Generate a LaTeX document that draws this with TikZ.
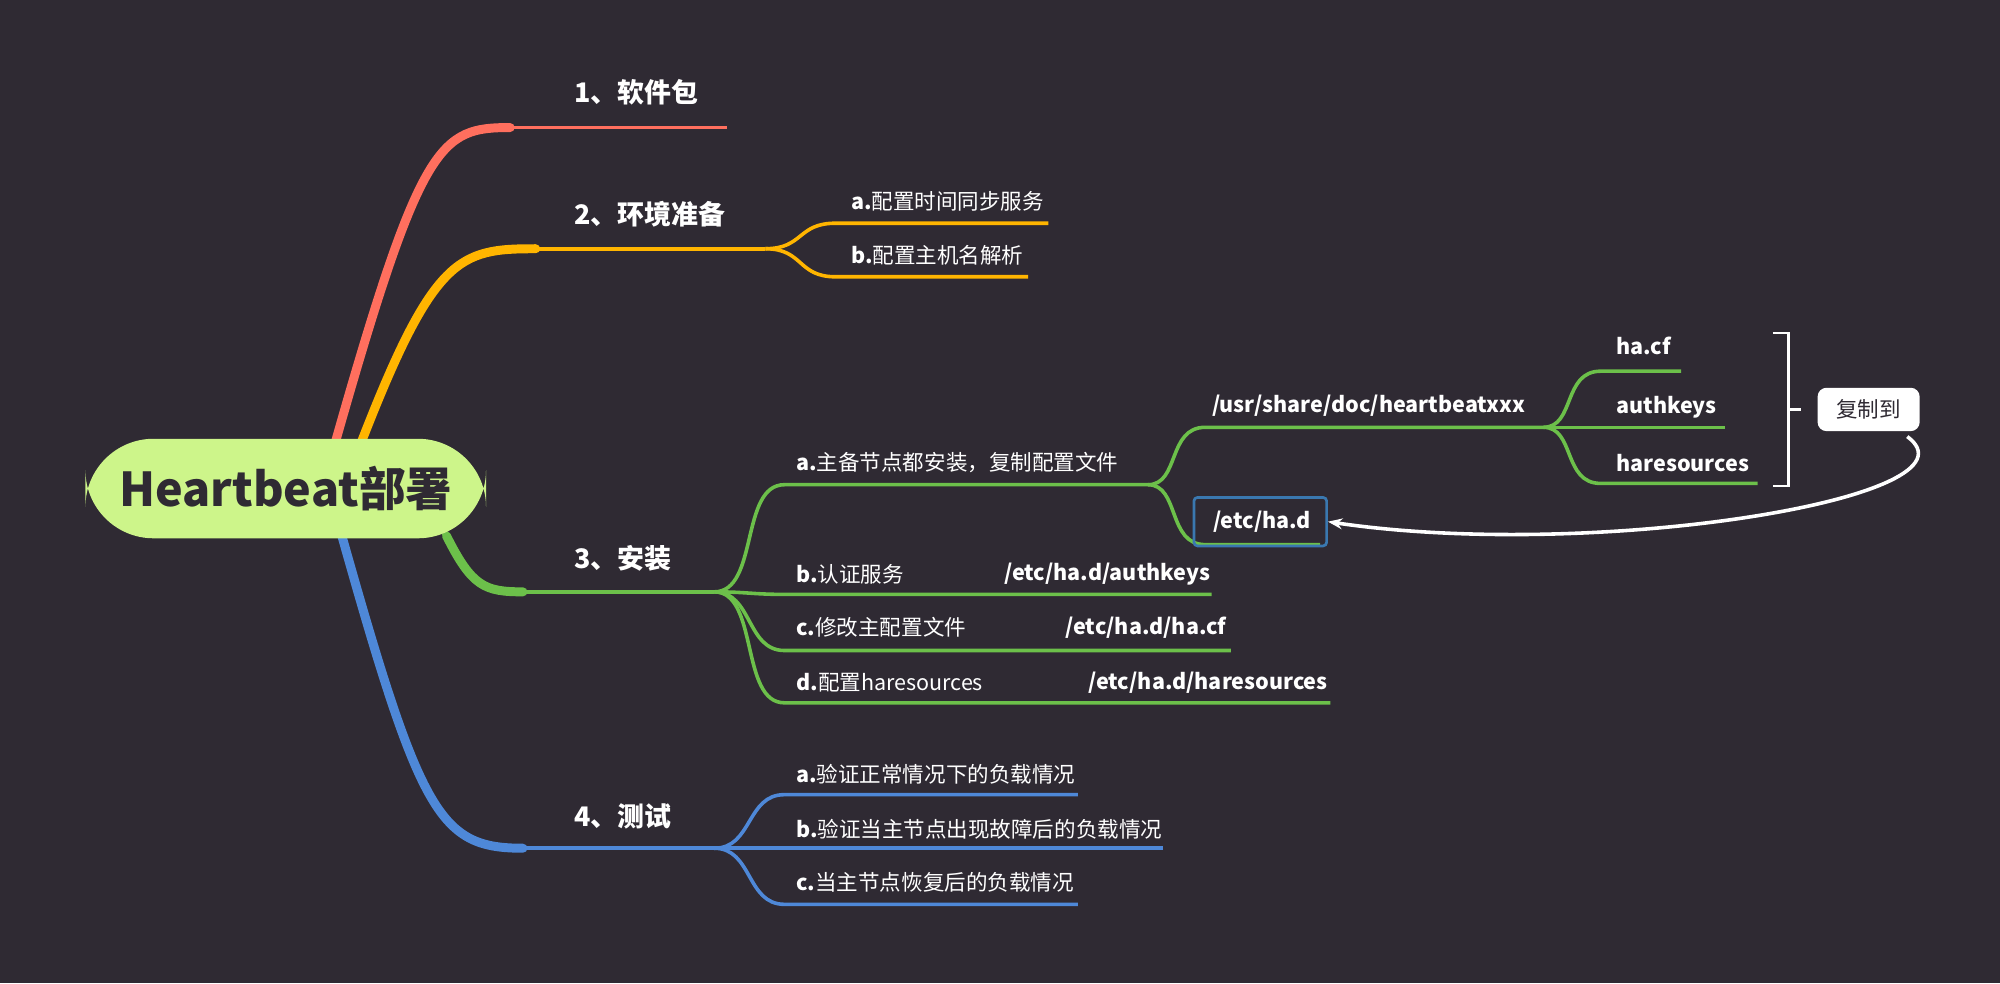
\documentclass[tikz,border=0pt]{standalone}
\usepackage{fontspec}
\setmainfont{Noto Sans CJK SC}
\usetikzlibrary{arrows.meta}
\definecolor{bg}{HTML}{2F2A33}
\definecolor{cred}{HTML}{FF6F5E}
\definecolor{cyel}{HTML}{FFB500}
\definecolor{cgrn}{HTML}{6CC04A}
\definecolor{cblu}{HTML}{4E88D8}
\definecolor{croot}{HTML}{CDF58A}
\definecolor{cbox}{HTML}{3A78B0}
\tikzset{
  main/.style={text=white, font=\fontsize{15}{18}\selectfont\bfseries, anchor=west, inner sep=0pt},
  sub/.style={text=white, font=\fontsize{12}{14}\selectfont, anchor=west, inner sep=0pt},
  path/.style={text=white, font=\fontsize{12}{14}\selectfont\bfseries, anchor=west, inner sep=0pt},
  trunk/.style={line width=5pt, line cap=round},
  twig/.style={line width=2pt}
}
\begin{document}
\begin{tikzpicture}[x=0.025cm, y=-0.025cm]
\fill[bg] (0,0) rectangle (1568,771);
\useasboundingbox (0,0) rectangle (1568,771);
% branch 1
\draw[cred, trunk] (262,350) .. controls (330,110) and (345,100) .. (400,100);
\draw[cred, twig] (400,100) -- (570,100);
\node[main] (b1) at (450,72) {1、软件包};
% branch 2
\draw[cyel, trunk] (282,350) .. controls (340,200) and (360,195) .. (420,195);
\draw[cyel, twig] (420,195) -- (600,195);
\draw[cyel, twig] (600,195) .. controls (630,195) and (625,175) .. (655,175) -- (822,175);
\draw[cyel, twig] (600,195) .. controls (630,195) and (625,217) .. (655,217) -- (806,217);
\node[main] (b2) at (450,168) {2、环境准备};
\node[sub] (b2a) at (667,158) {\textbf{a.}配置时间同步服务};
\node[sub] (b2b) at (667,200) {\textbf{b.}配置主机名解析};
% branch 3
\draw[cgrn, trunk] (350,420) .. controls (370,460) and (380,464) .. (410,464);
\draw[cgrn, twig] (410,464) -- (560,464);
\draw[cgrn, twig] (560,464) .. controls (595,464) and (580,380) .. (615,380) -- (900,380);
\draw[cgrn, twig] (560,464) .. controls (585,464) and (590,466) .. (615,466) -- (950,466);
\draw[cgrn, twig] (560,464) .. controls (590,464) and (585,510) .. (615,510) -- (965,510);
\draw[cgrn, twig] (560,464) .. controls (595,464) and (580,551) .. (615,551) -- (1043,551);
\draw[cgrn, twig] (900,380) .. controls (925,380) and (915,335) .. (945,335) -- (1210,335);
\draw[cgrn, twig] (900,380) .. controls (925,380) and (915,427) .. (945,427) -- (1035,427);
\draw[cgrn, twig] (1210,335) .. controls (1235,335) and (1225,291) .. (1255,291) -- (1318,291);
\draw[cgrn, twig] (1210,335) -- (1352,335);
\draw[cgrn, twig] (1210,335) .. controls (1235,335) and (1225,379) .. (1255,379) -- (1378,379);
\node[main] (b3) at (450,438) {3、安装};
\node[sub] (b3a) at (624,363) {\textbf{a.}主备节点都安装，复制配置文件};
\node[path] (usr) at (950,318) {/usr/share/doc/heartbeatxxx};
\node[path, draw=cbox, line width=1.5pt, rounded corners=2pt, minimum width=2.6cm, minimum height=0.95cm, inner sep=4pt] (etc) at (935,409) {\,/etc/ha.d};
\node[path] (hacf) at (1267,271) {ha.cf};
\node[path] (auth) at (1267,319) {authkeys};
\node[path] (hares) at (1267,363) {haresources};
\node[sub] (b3b) at (624,450) {\textbf{b.}认证服务};
\node[path] (b3bp) at (787,450) {/etc/ha.d/authkeys};
\node[sub] (b3c) at (624,492) {\textbf{c.}修改主配置文件};
\node[path] (b3cp) at (835,492) {/etc/ha.d/ha.cf};
\node[sub] (b3d) at (624,535) {\textbf{d.}配置haresources};
\node[path] (b3dp) at (853,535) {/etc/ha.d/haresources};
% bracket and copy note
\draw[white, line width=1.5pt] (1390,261) -- (1402,261) -- (1402,381) -- (1390,381);
\draw[white, line width=1.5pt] (1402,321) -- (1412,321);
\node[fill=white, rounded corners=5pt, text=bg, font=\fontsize{12}{14}\selectfont, minimum width=2cm, minimum height=0.85cm] (copy) at (1465,321) {复制到};
\draw[white, line width=2pt, -{Stealth[length=8pt]}] (copy.south east) ++(-10,4) .. controls (1560,390) and (1250,440) .. (etc.east);
% branch 4
\draw[cblu, trunk] (268,420) .. controls (330,640) and (345,665) .. (410,665);
\draw[cblu, twig] (410,665) -- (560,665);
\draw[cblu, twig] (560,665) .. controls (590,665) and (585,623) .. (615,623) -- (845,623);
\draw[cblu, twig] (560,665) -- (912,665);
\draw[cblu, twig] (560,665) .. controls (590,665) and (585,709) .. (615,709) -- (845,709);
\node[main] (b4) at (450,640) {4、测试};
\node[sub] (b4a) at (624,607) {\textbf{a.}验证正常情况下的负载情况};
\node[sub] (b4b) at (624,650) {\textbf{b.}验证当主节点出现故障后的负载情况};
\node[sub] (b4c) at (624,692) {\textbf{c.}当主节点恢复后的负载情况};
% root
\node[fill=croot, rounded corners=38pt, minimum width=7.85cm, minimum height=1.95cm, text=bg, font=\fontsize{26}{30}\selectfont\bfseries] (root) at (224,383) {Heartbeat部署};
\end{tikzpicture}
\end{document}
